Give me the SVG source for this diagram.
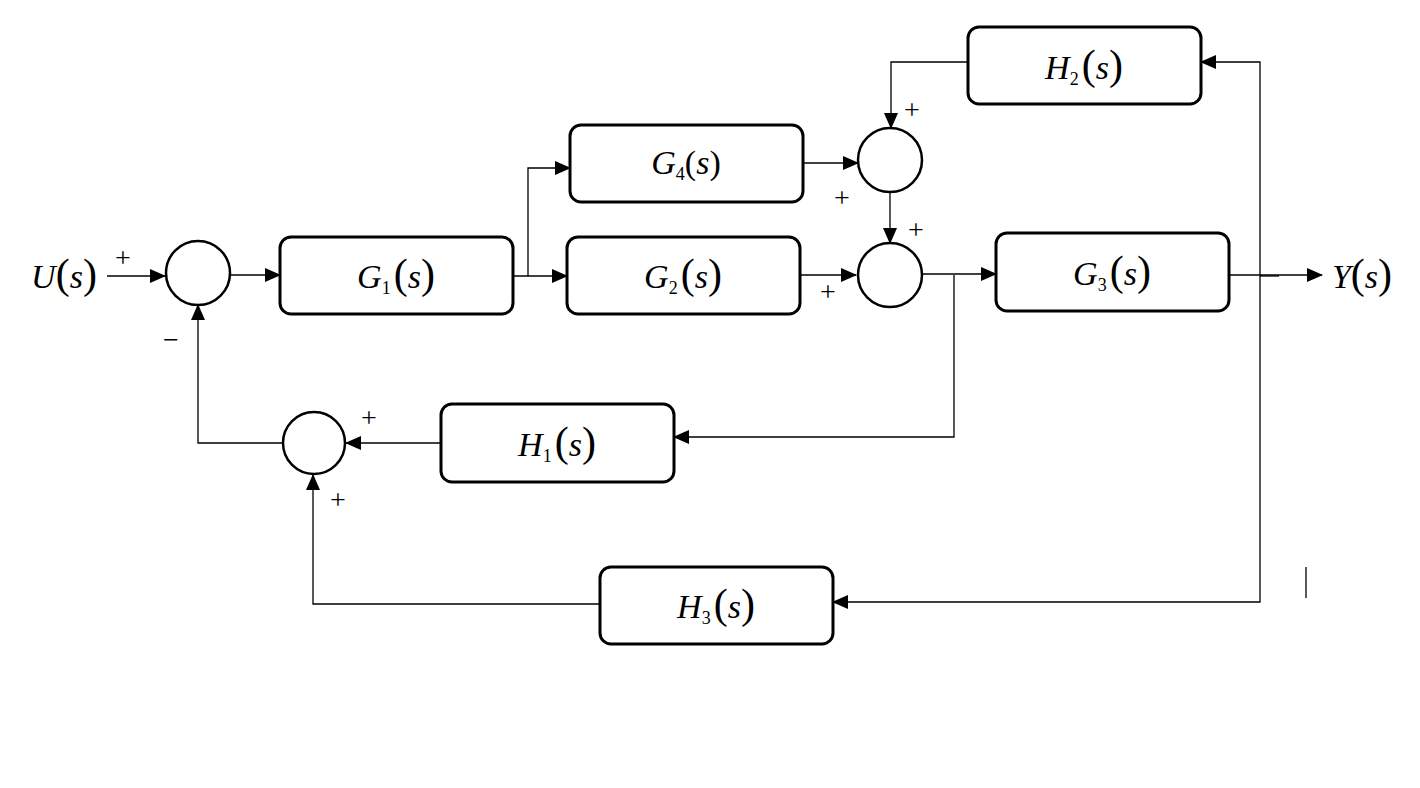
<svg xmlns="http://www.w3.org/2000/svg" width="1420" height="788" viewBox="0 0 1420 788">
<style>
.b{fill:#fff;stroke:#000;stroke-width:3}
.c{fill:#fff;stroke:#000;stroke-width:2.5}
.w{fill:none;stroke:#000;stroke-width:1.3}
.t{font-family:"Liberation Serif","Times New Roman",serif;font-style:italic;font-size:34px;text-anchor:middle;fill:#000}
.p{font-family:"Liberation Serif","Times New Roman",serif;font-size:28px;text-anchor:middle;fill:#000}
.s{font-size:18px}
.n{font-style:normal}
.q{font-style:normal;font-size:42px}
</style>
<defs><marker id="a" markerWidth="16" markerHeight="14" refX="15" refY="7" orient="auto" markerUnits="userSpaceOnUse"><path d="M0,0L16,7L0,14Z" fill="#000"/></marker></defs>
<rect width="1420" height="788" fill="#fff"/>
<g id="connectors">
<path class="w" d="M107,276H165" marker-end="url(#a)"/>
<path class="w" d="M230,275H280" marker-end="url(#a)"/>
<path class="w" d="M513,276H567" marker-end="url(#a)"/>
<path class="w" d="M528,276V168H570" marker-end="url(#a)"/>
<path class="w" d="M803,163H858" marker-end="url(#a)"/>
<path class="w" d="M800,275H856" marker-end="url(#a)"/>
<path class="w" d="M890,192V243" marker-end="url(#a)"/>
<path class="w" d="M968,62H891V128" marker-end="url(#a)"/>
<path class="w" d="M922,274H996" marker-end="url(#a)"/>
<path class="w" d="M1229,275H1322" marker-end="url(#a)"/>
<path class="w" d="M1260,275V62H1201" marker-end="url(#a)"/>
<path class="w" d="M1260,275V602H833" marker-end="url(#a)"/>
<path class="w" d="M1260,276H1279"/>
<path class="w" d="M954,275V437H674" marker-end="url(#a)"/>
<path class="w" d="M441,443H346" marker-end="url(#a)"/>
<path class="w" d="M283,443H198V305" marker-end="url(#a)"/>
<path class="w" d="M600,604H313V475" marker-end="url(#a)"/>
<path class="w" d="M1306,567V598"/>
</g>
<g id="G1"><rect class="b" x="280" y="237" width="233" height="77" rx="11"/><text class="t" x="396" y="288">G<tspan class="s n" dy="6">1</tspan><tspan dy="-6" class="q" dx="3">(</tspan>s<tspan class="q">)</tspan></text></g>
<g id="G2"><rect class="b" x="567" y="237" width="233" height="77" rx="11"/><text class="t" x="683" y="288">G<tspan class="s n" dy="6">2</tspan><tspan dy="-6" class="q" dx="3">(</tspan>s<tspan class="q">)</tspan></text></g>
<g id="G4"><rect class="b" x="570" y="125" width="233" height="77" rx="11"/><text class="t" x="686" y="174">G<tspan class="s n" dy="6">4</tspan><tspan dy="-6" class="n">(</tspan>s<tspan class="n">)</tspan></text></g>
<g id="G3"><rect class="b" x="996" y="233" width="233" height="78" rx="11"/><text class="t" x="1112" y="285">G<tspan class="s n" dy="6">3</tspan><tspan dy="-6" class="q" dx="3">(</tspan>s<tspan class="q">)</tspan></text></g>
<g id="H2"><rect class="b" x="968" y="27" width="233" height="77" rx="11"/><text class="t" x="1084" y="79">H<tspan class="s n" dy="6">2</tspan><tspan dy="-6" class="q" dx="3">(</tspan>s<tspan class="q">)</tspan></text></g>
<g id="H1"><rect class="b" x="441" y="404" width="233" height="78" rx="11"/><text class="t" x="557" y="456">H<tspan class="s n" dy="6">1</tspan><tspan dy="-6" class="q" dx="3">(</tspan>s<tspan class="q">)</tspan></text></g>
<g id="H3"><rect class="b" x="600" y="567" width="233" height="77" rx="11"/><text class="t" x="716" y="618">H<tspan class="s n" dy="6">3</tspan><tspan dy="-6" class="q" dx="3">(</tspan>s<tspan class="q">)</tspan></text></g>
<g id="S1"><circle class="c" cx="198" cy="273" r="32"/></g>
<g id="S2"><circle class="c" cx="890" cy="160" r="32"/></g>
<g id="S3"><circle class="c" cx="890" cy="275" r="32"/></g>
<g id="S4"><circle class="c" cx="314" cy="443" r="31"/></g>
<g id="labels">
<text class="t" x="64" y="288">U<tspan class="q">(</tspan>s<tspan class="q">)</tspan></text>
<text class="t" x="1362" y="288">Y<tspan class="q">(</tspan>s<tspan class="q">)</tspan></text>
<text class="p" x="123" y="267">+</text>
<text class="p" x="171" y="349">−</text>
<text class="p" x="912" y="119">+</text>
<text class="p" x="842" y="207">+</text>
<text class="p" x="916" y="239">+</text>
<text class="p" x="828" y="301">+</text>
<text class="p" x="369" y="427">+</text>
<text class="p" x="338" y="509">+</text>
</g>
</svg>
